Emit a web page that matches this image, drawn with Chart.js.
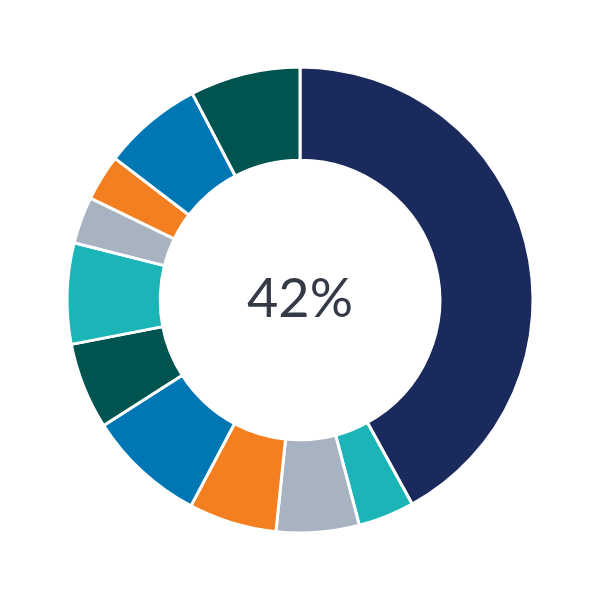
<!DOCTYPE html>
<html>
<head>
<meta charset="utf-8">
<script src="https://cdn.jsdelivr.net/npm/chart.js@4"></script>
<style>
  html, body { margin: 0; padding: 0; background: #ffffff; }
  #wrap { width: 600px; height: 600px; position: relative; }
</style>
</head>
<body>
<div id="wrap"><canvas id="myChart" width="600" height="600"></canvas></div>
<script>
// segment shares, clockwise from the top
const labels = ["A", "B", "C", "D", "E", "F", "G", "H", "I", "J", "K"];
const values = [42, 3.9, 5.75, 6.1, 8.2, 6.0, 7.0, 3.25, 3.2, 6.95, 7.65];
const colors = [
  "#1b2a5c", "#1bb5b8", "#a8b3c1", "#f47f20", "#0077b5", "#00544f",
  "#1bb5b8", "#a8b3c1", "#f47f20", "#0077b5", "#00544f"
];
const centerText = "42%";

/*Texto no centro*/
const centerLabel = {
  id: "centerLabel",
  afterDraw(chart) {
    const { ctx, chartArea } = chart;
    const x = (chartArea.left + chartArea.right) / 2;
    const y = (chartArea.top + chartArea.bottom) / 2;
    ctx.save();
    ctx.font = "54px Lato";
    ctx.fillStyle = "#353b46";
    ctx.textAlign = "center";
    ctx.textBaseline = "middle";
    ctx.fillText(centerText, x, y);
    ctx.restore();
  }
};

const ctx1 = document.getElementById("myChart").getContext("2d");

const config1 = {
  type: "doughnut",
  data: {
    labels: labels,
    datasets: [
      {
        data: values,
        backgroundColor: colors,
        borderColor: "#ffffff",
        borderWidth: 3,
      },
    ],
  },
  options: {
    responsive: false,
    animation: false,
    cutout: "60%",
    layout: { padding: 65.5 },
    plugins: {
      legend: { display: false },
      tooltip: { enabled: false },
    },
  },
  plugins: [centerLabel],
};

const myChart1 = new Chart(ctx1, config1);
</script>
</body>
</html>
